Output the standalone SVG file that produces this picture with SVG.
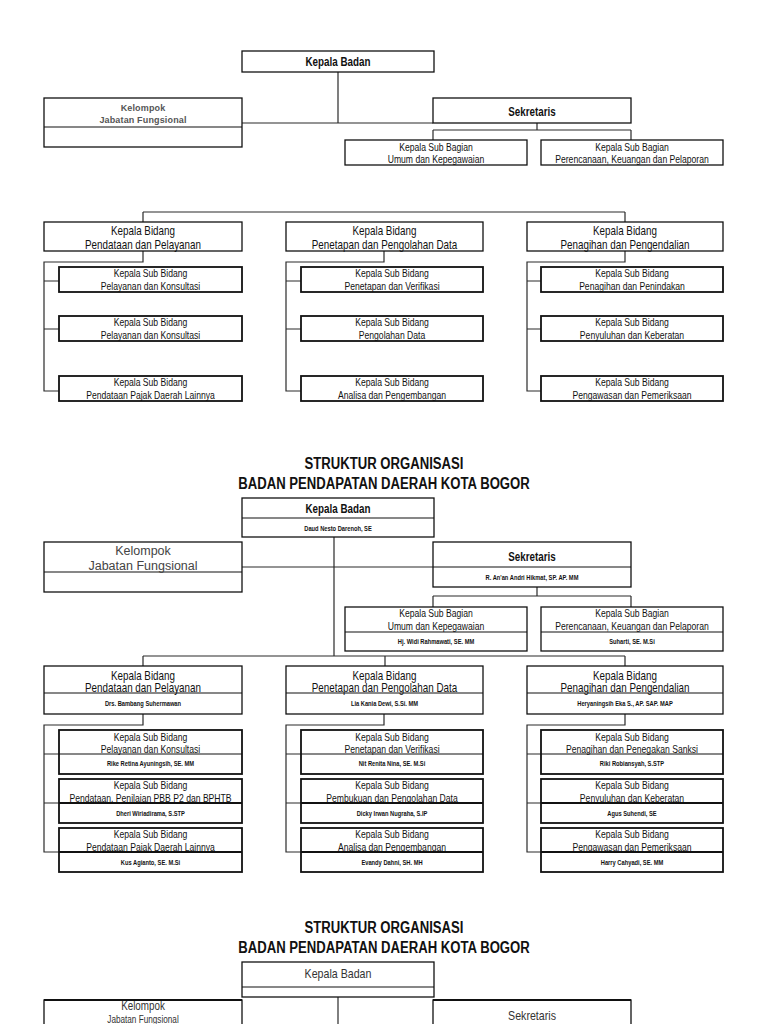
<svg xmlns="http://www.w3.org/2000/svg" width="768" height="1024" viewBox="0 0 768 1024">
<style>
.bg{fill:#fff}
.b{fill:#fff;stroke:#111;stroke-width:1.3}
.bt{fill:#fff;stroke:#111;stroke-width:1.8}
.d{stroke:#111;stroke-width:1.2;fill:none}
.dt{stroke:#111;stroke-width:2;fill:none}
.c{stroke:#2a2a2a;stroke-width:1.2;fill:none}
text{font-family:"Liberation Sans",Arial,sans-serif;text-anchor:middle;fill:#111}
.h{font-size:12px;font-weight:bold}
.t1{font-size:12px}
.t2{font-size:10.5px}
.nm{font-size:7px;font-weight:bold}
.ttl{font-size:16px;font-weight:bold}
.kj{font-size:12.5px;fill:#444}
.kj1{font-size:9px;font-weight:bold;fill:#555;letter-spacing:0.15px}
.r3{font-size:13px;fill:#333}
</style>
<rect class="bg" x="0" y="0" width="768" height="1024"/>

<!-- ===== Section 1 connectors ===== -->
<g id="connectors-1">
<path class="c" d="M338 72V123M242 123H433"/>
<path class="c" d="M537 123V130M433 130H631M433 130V140M631 130V140"/>
<path class="c" d="M143 212H625M143 212V222M625 212V222"/>
<path class="c" d="M143 251V262H44V391H59M44 281H59M44 329H59"/>
<path class="c" d="M384 251V262H286V391H301M286 281H301M286 329H301"/>
<path class="c" d="M625 251V262H527V391H541M527 281H541M527 329H541"/>
</g>

<g id="s1-kepala-badan"><rect class="b" x="242" y="51" width="192" height="21"/><text class="h" transform="translate(338 66) scale(.82 1)">Kepala Badan</text></g>
<g id="s1-kelompok"><rect class="b" x="44" y="98" width="198" height="49"/><path class="d" d="M44 127H242"/><text class="kj1" x="143" y="111">Kelompok</text><text class="kj1" x="143" y="122.5">Jabatan Fungsional</text></g>
<g id="s1-sekretaris"><rect class="b" x="433" y="98" width="198" height="25"/><text class="h" transform="translate(532 116) scale(.82 1)">Sekretaris</text></g>
<g id="s1-subbag-umum"><rect class="b" x="345" y="140" width="182" height="25"/><text class="t2" transform="translate(436 150.5) scale(.82 1)">Kepala Sub Bagian</text><text class="t2" transform="translate(436 162.5) scale(.82 1)">Umum dan Kepegawaian</text></g>
<g id="s1-subbag-perencanaan"><rect class="b" x="541" y="140" width="182" height="25"/><text class="t2" transform="translate(632 150.5) scale(.82 1)">Kepala Sub Bagian</text><text class="t2" transform="translate(632 162.5) scale(.82 1)">Perencanaan, Keuangan dan Pelaporan</text></g>

<g id="s1-bidang-pendataan"><rect class="b" x="44" y="222" width="198" height="29"/><text class="t1" transform="translate(143 235) scale(.82 1)">Kepala Bidang</text><text class="t1" transform="translate(143 248.5) scale(.82 1)">Pendataan dan Pelayanan</text></g>
<g id="s1-bidang-penetapan"><rect class="b" x="286" y="222" width="197" height="29"/><text class="t1" transform="translate(384.5 235) scale(.82 1)">Kepala Bidang</text><text class="t1" transform="translate(384.5 248.5) scale(.82 1)">Penetapan dan Pengolahan Data</text></g>
<g id="s1-bidang-penagihan"><rect class="b" x="527" y="222" width="196" height="29"/><text class="t1" transform="translate(625 235) scale(.82 1)">Kepala Bidang</text><text class="t1" transform="translate(625 248.5) scale(.82 1)">Penagihan dan Pengendalian</text></g>

<g id="s1-sub-1a"><rect class="bt" x="59" y="267" width="183" height="25"/><text class="t2" transform="translate(150.5 276.5) scale(.82 1)">Kepala Sub Bidang</text><text class="t2" transform="translate(150.5 289.5) scale(.82 1)">Pelayanan dan Konsultasi</text></g>
<g id="s1-sub-1b"><rect class="bt" x="59" y="316" width="183" height="25"/><text class="t2" transform="translate(150.5 325.5) scale(.82 1)">Kepala Sub Bidang</text><text class="t2" transform="translate(150.5 338.5) scale(.82 1)">Pelayanan dan Konsultasi</text></g>
<g id="s1-sub-1c"><rect class="bt" x="59" y="376" width="183" height="25"/><text class="t2" transform="translate(150.5 385.5) scale(.82 1)">Kepala Sub Bidang</text><text class="t2" transform="translate(150.5 398.5) scale(.82 1)">Pendataan Pajak Daerah Lainnya</text></g>
<g id="s1-sub-2a"><rect class="bt" x="301" y="267" width="182" height="25"/><text class="t2" transform="translate(392 276.5) scale(.82 1)">Kepala Sub Bidang</text><text class="t2" transform="translate(392 289.5) scale(.82 1)">Penetapan dan Verifikasi</text></g>
<g id="s1-sub-2b"><rect class="bt" x="301" y="316" width="182" height="25"/><text class="t2" transform="translate(392 325.5) scale(.82 1)">Kepala Sub Bidang</text><text class="t2" transform="translate(392 338.5) scale(.82 1)">Pengolahan Data</text></g>
<g id="s1-sub-2c"><rect class="bt" x="301" y="376" width="182" height="25"/><text class="t2" transform="translate(392 385.5) scale(.82 1)">Kepala Sub Bidang</text><text class="t2" transform="translate(392 398.5) scale(.82 1)">Analisa dan Pengembangan</text></g>
<g id="s1-sub-3a"><rect class="bt" x="541" y="267" width="182" height="25"/><text class="t2" transform="translate(632 276.5) scale(.82 1)">Kepala Sub Bidang</text><text class="t2" transform="translate(632 289.5) scale(.82 1)">Penagihan dan Penindakan</text></g>
<g id="s1-sub-3b"><rect class="bt" x="541" y="316" width="182" height="25"/><text class="t2" transform="translate(632 325.5) scale(.82 1)">Kepala Sub Bidang</text><text class="t2" transform="translate(632 338.5) scale(.82 1)">Penyuluhan dan Keberatan</text></g>
<g id="s1-sub-3c"><rect class="bt" x="541" y="376" width="182" height="25"/><text class="t2" transform="translate(632 385.5) scale(.82 1)">Kepala Sub Bidang</text><text class="t2" transform="translate(632 398.5) scale(.82 1)">Pengawasan dan Pemeriksaan</text></g>

<!-- ===== Section 2 ===== -->
<g id="s2-title"><text class="ttl" transform="translate(384 469) scale(.82 1)">STRUKTUR ORGANISASI</text><text class="ttl" transform="translate(384 489) scale(.82 1)">BADAN PENDAPATAN DAERAH KOTA BOGOR</text></g>
<g id="connectors-2">
<path class="c" d="M334 537V656M242 567H433"/>
<path class="c" d="M537 587V596M433 596H631M433 596V607M631 596V607"/>
<path class="c" d="M143 656H625M143 656V666M625 656V666M385 656V666"/>
<path class="c" d="M143 714V725H44V852H59M44 754H59M44 803H59"/>
<path class="c" d="M384 714V725H286V852H301M286 754H301M286 803H301"/>
<path class="c" d="M625 714V725H527V852H541M527 754H541M527 803H541"/>
</g>
<g id="s2-kepala-badan"><rect class="b" x="242" y="498" width="192" height="39"/><path class="d" d="M242 518H434"/><text class="h" transform="translate(338 513) scale(.82 1)">Kepala Badan</text><text class="nm" transform="translate(338 531) scale(.82 1)">Daud Nesto Darenoh, SE</text></g>
<g id="s2-kelompok"><rect class="b" x="44" y="542" width="198" height="50"/><path class="d" d="M44 572H242"/><text class="kj" x="143" y="554.5">Kelompok</text><text class="kj" x="143" y="569.5">Jabatan Fungsional</text></g>
<g id="s2-sekretaris"><rect class="b" x="433" y="542" width="198" height="45"/><path class="d" d="M433 567H631"/><text class="h" transform="translate(532 561) scale(.82 1)">Sekretaris</text><text class="nm" transform="translate(532 579.5) scale(.82 1)">R. An'an Andri Hikmat, SP. AP. MM</text></g>
<g id="s2-subbag-umum"><rect class="b" x="345" y="607" width="182" height="44"/><path class="d" d="M345 632H527"/><text class="t2" transform="translate(436 617) scale(.82 1)">Kepala Sub Bagian</text><text class="t2" transform="translate(436 630) scale(.82 1)">Umum dan Kepegawaian</text><text class="nm" transform="translate(436 643.5) scale(.82 1)">Hj. Widi Rahmawati, SE. MM</text></g>
<g id="s2-subbag-perencanaan"><rect class="b" x="541" y="607" width="182" height="44"/><path class="d" d="M541 632H723"/><text class="t2" transform="translate(632 617) scale(.82 1)">Kepala Sub Bagian</text><text class="t2" transform="translate(632 630) scale(.82 1)">Perencanaan, Keuangan dan Pelaporan</text><text class="nm" transform="translate(632 643.5) scale(.82 1)">Suharti, SE. M.Si</text></g>

<g id="s2-bidang-pendataan"><rect class="b" x="44" y="666" width="198" height="48"/><path class="d" d="M44 693H242"/><text class="t1" transform="translate(143 679.5) scale(.82 1)">Kepala Bidang</text><text class="t1" transform="translate(143 692) scale(.82 1)">Pendataan dan Pelayanan</text><text class="nm" transform="translate(143 706) scale(.82 1)">Drs. Bambang Suhermawan</text></g>
<g id="s2-bidang-penetapan"><rect class="b" x="286" y="666" width="197" height="48"/><path class="d" d="M286 693H483"/><text class="t1" transform="translate(384.5 679.5) scale(.82 1)">Kepala Bidang</text><text class="t1" transform="translate(384.5 692) scale(.82 1)">Penetapan dan Pengolahan Data</text><text class="nm" transform="translate(384.5 706) scale(.82 1)">Lia Kania Dewi, S.Si. MM</text></g>
<g id="s2-bidang-penagihan"><rect class="b" x="527" y="666" width="196" height="48"/><path class="d" d="M527 693H723"/><text class="t1" transform="translate(625 679.5) scale(.82 1)">Kepala Bidang</text><text class="t1" transform="translate(625 692) scale(.82 1)">Penagihan dan Pengendalian</text><text class="nm" transform="translate(625 706) scale(.82 1)">Heryaningsih Eka S., AP. SAP. MAP</text></g>

<g id="s2-sub-1a"><rect class="bt" x="59" y="730" width="183" height="44"/><path class="d" d="M59 754H242"/><text class="t2" transform="translate(150.5 741) scale(.82 1)">Kepala Sub Bidang</text><text class="t2" transform="translate(150.5 753) scale(.82 1)">Pelayanan dan Konsultasi</text><text class="nm" transform="translate(150.5 766) scale(.82 1)">Rike Retina Ayuningsih, SE. MM</text></g>
<g id="s2-sub-1b"><rect class="bt" x="59" y="779" width="183" height="44"/><path class="dt" d="M59 803H242"/><text class="t2" transform="translate(150.5 789) scale(.82 1)">Kepala Sub Bidang</text><text class="t2" transform="translate(150.5 801.5) scale(.82 1)">Pendataan, Penilaian PBB P2 dan BPHTB</text><text class="nm" transform="translate(150.5 816) scale(.82 1)">Dheri Wiriadirama, S.STP</text></g>
<g id="s2-sub-1c"><rect class="bt" x="59" y="828" width="183" height="44"/><path class="dt" d="M59 852H242"/><text class="t2" transform="translate(150.5 838) scale(.82 1)">Kepala Sub Bidang</text><text class="t2" transform="translate(150.5 850.5) scale(.82 1)">Pendataan Pajak Daerah Lainnya</text><text class="nm" transform="translate(150.5 865) scale(.82 1)">Kus Agianto, SE. M.Si</text></g>
<g id="s2-sub-2a"><rect class="bt" x="301" y="730" width="182" height="44"/><path class="d" d="M301 754H483"/><text class="t2" transform="translate(392 741) scale(.82 1)">Kepala Sub Bidang</text><text class="t2" transform="translate(392 753) scale(.82 1)">Penetapan dan Verifikasi</text><text class="nm" transform="translate(392 766) scale(.82 1)">Nit Renita Nina, SE. M.Si</text></g>
<g id="s2-sub-2b"><rect class="bt" x="301" y="779" width="182" height="44"/><path class="dt" d="M301 803H483"/><text class="t2" transform="translate(392 789) scale(.82 1)">Kepala Sub Bidang</text><text class="t2" transform="translate(392 801.5) scale(.82 1)">Pembukuan dan Pengolahan Data</text><text class="nm" transform="translate(392 816) scale(.82 1)">Dicky Irwan Nugraha, S.IP</text></g>
<g id="s2-sub-2c"><rect class="bt" x="301" y="828" width="182" height="44"/><path class="dt" d="M301 852H483"/><text class="t2" transform="translate(392 838) scale(.82 1)">Kepala Sub Bidang</text><text class="t2" transform="translate(392 850.5) scale(.82 1)">Analisa dan Pengembangan</text><text class="nm" transform="translate(392 865) scale(.82 1)">Evandy Dahni, SH. MH</text></g>
<g id="s2-sub-3a"><rect class="bt" x="541" y="730" width="182" height="44"/><path class="d" d="M541 754H723"/><text class="t2" transform="translate(632 741) scale(.82 1)">Kepala Sub Bidang</text><text class="t2" transform="translate(632 753) scale(.82 1)">Penagihan dan Penegakan Sanksi</text><text class="nm" transform="translate(632 766) scale(.82 1)">Riki Robiansyah, S.STP</text></g>
<g id="s2-sub-3b"><rect class="bt" x="541" y="779" width="182" height="44"/><path class="dt" d="M541 803H723"/><text class="t2" transform="translate(632 789) scale(.82 1)">Kepala Sub Bidang</text><text class="t2" transform="translate(632 801.5) scale(.82 1)">Penyuluhan dan Keberatan</text><text class="nm" transform="translate(632 816) scale(.82 1)">Agus Suhendi, SE</text></g>
<g id="s2-sub-3c"><rect class="bt" x="541" y="828" width="182" height="44"/><path class="dt" d="M541 852H723"/><text class="t2" transform="translate(632 838) scale(.82 1)">Kepala Sub Bidang</text><text class="t2" transform="translate(632 850.5) scale(.82 1)">Pengawasan dan Pemeriksaan</text><text class="nm" transform="translate(632 865) scale(.82 1)">Harry Cahyadi, SE. MM</text></g>

<!-- ===== Section 3 ===== -->
<g id="s3-title"><text class="ttl" transform="translate(384 933) scale(.82 1)">STRUKTUR ORGANISASI</text><text class="ttl" transform="translate(384 953) scale(.82 1)">BADAN PENDAPATAN DAERAH KOTA BOGOR</text></g>
<g id="connectors-3"><path class="c" d="M338 997V1024"/></g>
<g id="s3-kepala-badan"><rect class="b" x="242" y="962" width="192" height="35"/><path class="d" d="M242 987H434"/><text class="r3" transform="translate(338 978) scale(.82 1)">Kepala Badan</text></g>
<g id="s3-kelompok"><rect class="b" x="44" y="1000" width="198" height="40"/><path class="dt" d="M44 1000H242"/><text class="r3" transform="translate(143 1010) scale(.82 1)" style="font-size:12px">Kelompok</text><text class="r3" transform="translate(143 1022.5) scale(.82 1)" style="font-size:10px">Jabatan Fungsional</text></g>
<g id="s3-sekretaris"><rect class="b" x="433" y="1000" width="198" height="40"/><path class="dt" d="M433 1000H631"/><text class="r3" transform="translate(532 1019.5) scale(.82 1)">Sekretaris</text></g>
</svg>
